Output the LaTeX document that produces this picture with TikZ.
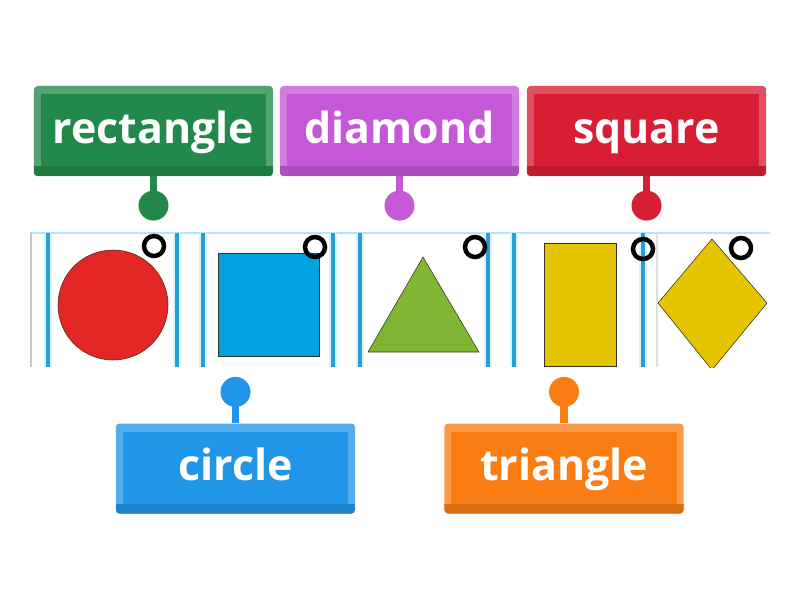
\documentclass[tikz,border=0pt]{standalone}
\usepackage{fontspec}
\setmainfont{Open Sans}
\usetikzlibrary{positioning}

\definecolor{tagGreen}{RGB}{35,137,74}
\definecolor{tagPurple}{RGB}{196,88,214}
\definecolor{tagRed}{RGB}{216,30,52}
\definecolor{tagBlue}{RGB}{33,150,232}
\definecolor{tagOrange}{RGB}{250,125,20}
\definecolor{cellBlue}{RGB}{42,160,210}
\definecolor{shapeRed}{RGB}{228,38,36}
\definecolor{shapeBlue}{RGB}{0,162,226}
\definecolor{shapeGreen}{RGB}{128,182,52}
\definecolor{shapeYellow}{RGB}{229,196,0}
\definecolor{shapeEdge}{RGB}{60,50,30}

\tikzset{
  tag/.style={fill=#1!78!white, rounded corners=2.5pt, minimum width=5.975cm, minimum height=2.25cm,
    text=white, font=\fontsize{30.5}{33}\selectfont\bfseries, text height=0.75cm, text depth=0.15cm,
    path picture={
      \fill[#1!88!black, sharp corners] (path picture bounding box.south west) rectangle ([yshift=0.25cm]path picture bounding box.south east);
      \fill[#1, sharp corners] ([xshift=0.175cm,yshift=0.25cm]path picture bounding box.south west) rectangle ([xshift=-0.175cm,yshift=-0.2cm]path picture bounding box.north east);
    }},
  knob/.style={circle, fill=#1, minimum size=0.75cm, inner sep=0pt},
  tagstem/.style={draw=#1, line width=5pt},
  cell/.style={draw=cellBlue, line width=2.2pt},
  ring/.style={circle, draw=black, line width=3.2pt, minimum size=0.5cm, inner sep=0pt},
}

\begin{document}
\begin{tikzpicture}[x=0.025cm, y=-0.025cm]
\useasboundingbox[fill=white] (0,0) rectangle (800,600);

% strip of pictures
\draw[cyan!30, line width=1pt] (30,233) -- (770,233);
\foreach \x in {48,177,203,333,360,488,514,643}
  \draw[cyan!15, line width=5pt] (\x,233) -- (\x,367);
\foreach \x in {48,177,203,333,360,488,514,643}
  \draw[cell] (\x,233) -- (\x,367);
\draw[gray!45, line width=2pt] (31,233) -- (31,367);
\draw[gray!25, line width=2pt] (657,233) -- (657,367);

\begin{scope}
\clip (30,233) rectangle (770,367);
\draw[shapeEdge, fill=shapeRed] (113,305) circle [radius=55];
\draw[shapeEdge, fill=shapeBlue] (218,253) rectangle (319,356);
\draw[shapeEdge, fill=shapeGreen] (423,257) -- (368,352) -- (479,352) -- cycle;
\draw[shapeEdge, fill=shapeYellow] (544,243) rectangle (616,366);
\draw[shapeEdge, fill=shapeYellow] (712,239) -- (767,303) -- (712,370) -- (658,303) -- cycle;
\end{scope}

\node[ring] (r1) at (154,246) {};
\node[ring] (r2) at (315,247) {};
\node[ring] (r3) at (475,247) {};
\node[ring] (r4) at (643,249) {};
\node[ring] (r5) at (741,248) {};

% labels
\node[tag=tagGreen] (rect) at (153.5,131) {rectangle};
\node[tag=tagPurple] (diam) at (399.5,131) {diamond};
\node[tag=tagRed] (squa) at (646.5,131) {square};
\node[tag=tagBlue] (circ) at (235.5,468.5) {circle};
\node[tag=tagOrange] (tria) at (564,468.5) {triangle};

\node[knob=tagGreen, below=0.35cm of rect] (rectK) {};
\node[knob=tagPurple, below=0.35cm of diam] (diamK) {};
\node[knob=tagRed, below=0.35cm of squa] (squaK) {};
\node[knob=tagBlue, above=0.4cm of circ] (circK) {};
\node[knob=tagOrange, above=0.4cm of tria] (triaK) {};

\draw[tagstem=tagGreen] (rect.south) -- (rectK.center);
\draw[tagstem=tagPurple] (diam.south) -- (diamK.center);
\draw[tagstem=tagRed] (squa.south) -- (squaK.center);
\draw[tagstem=tagBlue] (circ.north) -- (circK.center);
\draw[tagstem=tagOrange] (tria.north) -- (triaK.center);

\end{tikzpicture}
\end{document}
